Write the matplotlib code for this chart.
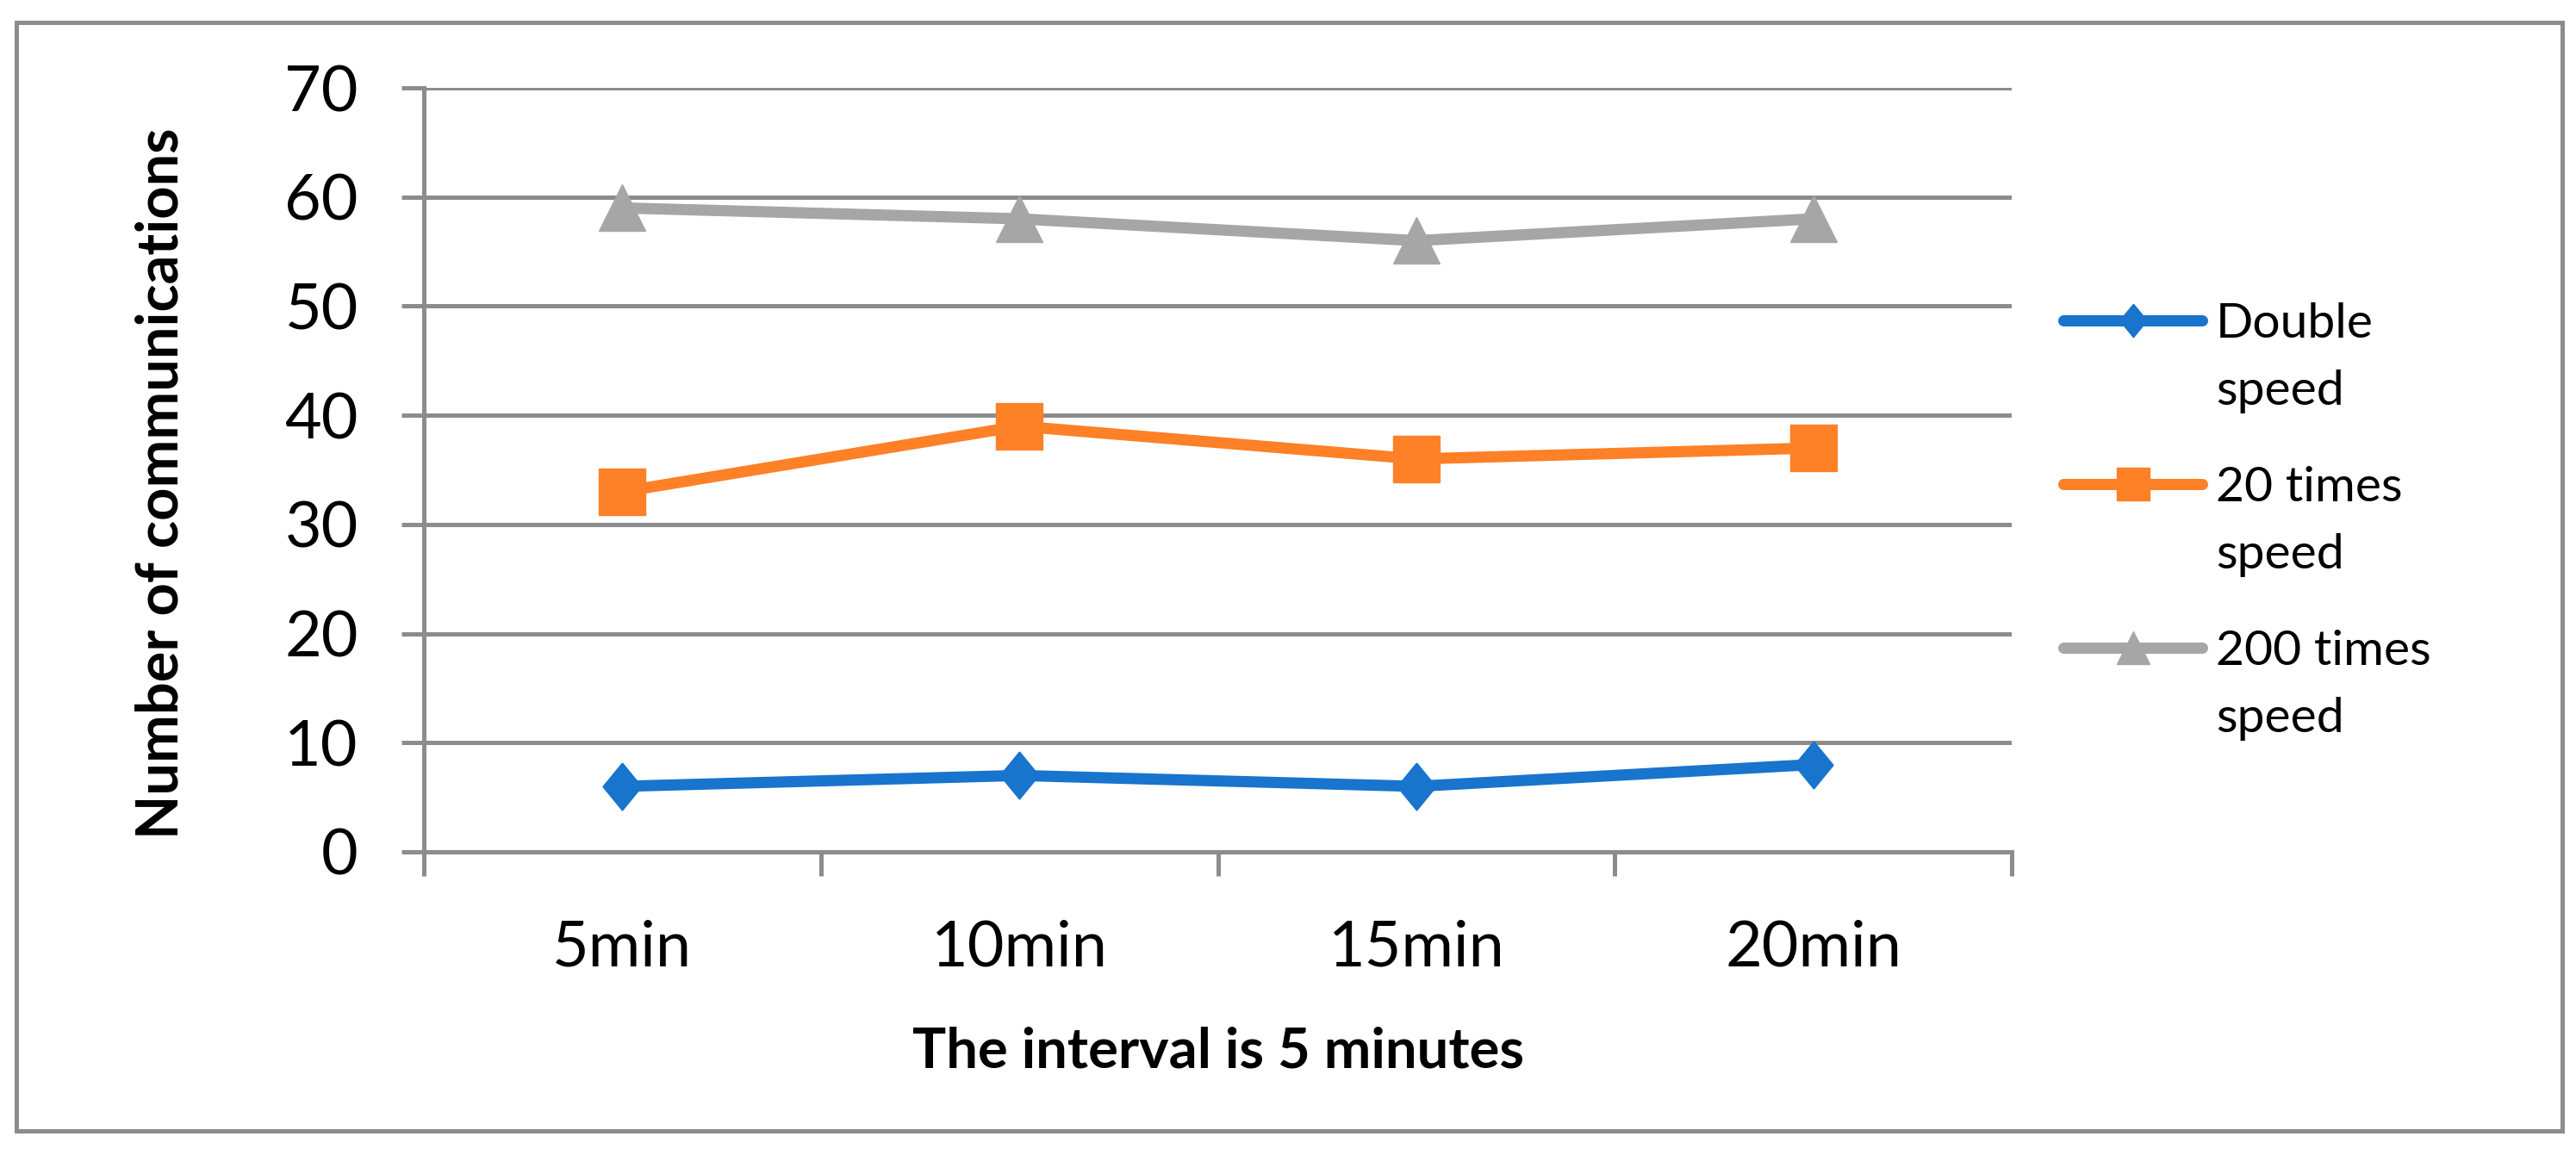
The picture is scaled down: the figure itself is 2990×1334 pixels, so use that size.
import matplotlib
matplotlib.use("Agg")
import matplotlib.pyplot as plt
from matplotlib.patches import Rectangle

plt.rcParams['font.family'] = ['Lato', 'DejaVu Sans']

# data
intervals = ['5min', '10min', '15min', '20min']
double_speed = [6, 7, 6, 8]
times20_speed = [33, 39, 36, 37]
times200_speed = [59, 58, 56, 58]
series_labels = ['Double\nspeed', '20 times\nspeed', '200 times\nspeed']
y_ticks = [0, 10, 20, 30, 40, 50, 60, 70]

GRID = '#8c8c8c'
BLUE = '#1874cd'
ORANGE = '#fe8027'
GRAY = '#a6a6a6'

W, H, DPI = 2990, 1334, 200
fig = plt.figure(figsize=(W / DPI, H / DPI), dpi=DPI)

# outer chart border
fig.patches.append(Rectangle((19 / W, 1 - 1313 / H), (2974 - 19) / W, (1313 - 26) / H,
                             transform=fig.transFigure, fill=False,
                             edgecolor=GRID, linewidth=1.8))

ax = fig.add_axes([492 / W, 1 - 989 / H, (2335 - 492) / W, (989 - 102) / H])

x = list(range(len(intervals)))
diamond = [(0, 1), (0.82, 0), (0, -1), (-0.82, 0), (0, 1)]
line_kw = dict(linewidth=4.7, solid_capstyle='round', solid_joinstyle='round',
               markeredgewidth=0.5, zorder=3)
ax.plot(x, double_speed, color=BLUE, marker=diamond, markersize=19.8,
        markerfacecolor=BLUE, markeredgecolor=BLUE, label=series_labels[0], **line_kw)
ax.plot(x, times20_speed, color=ORANGE, marker='s', markersize=19.5,
        markerfacecolor=ORANGE, markeredgecolor=ORANGE, label=series_labels[1], **line_kw)
ax.plot(x, times200_speed, color=GRAY, marker='^', markersize=19.5,
        markerfacecolor=GRAY, markeredgecolor=GRAY, label=series_labels[2], **line_kw)

ax.set_xlim(-0.5, len(intervals) - 0.5)
ax.set_ylim(0, 70)
ax.set_yticks(y_ticks)
ax.set_xticks(x)
ax.set_xticklabels(intervals)
ax.set_xticks([i - 0.5 for i in range(len(intervals) + 1)], minor=True)

ax.grid(axis='y', color=GRID, linewidth=1.8)
ax.set_axisbelow(True)
for side in ['top', 'right']:
    ax.spines[side].set_visible(False)
for side in ['left', 'bottom']:
    ax.spines[side].set_color(GRID)
    ax.spines[side].set_linewidth(1.8)

ax.tick_params(axis='y', length=9.4, width=1.8, color=GRID, pad=18, labelsize=26.5)
ax.tick_params(axis='x', which='major', length=0, pad=28.4, labelsize=26.5)
ax.tick_params(axis='x', which='minor', length=10, width=1.8, color=GRID)

ax.set_xlabel('The interval is 5 minutes', fontsize=23.5, fontweight='bold')
ax.xaxis.label.set_verticalalignment('baseline')
ax.xaxis.set_label_coords((1414 - 492) / 1843, (989 - 1240) / 887)
ax.set_ylabel('Number of communications', fontsize=24, fontweight='bold')
ax.yaxis.label.set_verticalalignment('baseline')
ax.yaxis.set_label_coords((207 - 492) / 1843, (989 - 561) / 887)

leg = ax.legend(loc='upper left', bbox_to_anchor=(2395 / W, 1 - 351 / H),
                bbox_transform=fig.transFigure, frameon=False, fontsize=20.5,
                borderpad=0, borderaxespad=0, handlelength=2.83, handletextpad=0.28,
                handleheight=0.8, labelspacing=1.08, markerscale=0.7)
for t in leg.get_texts():
    t.set_linespacing(1.65)
# keep each legend line level with the first line of its two-line label
for col in leg._legend_handle_box.get_children():
    for row in col.get_children():
        row.align = 'top'

fig.savefig('out.png', dpi=DPI)
